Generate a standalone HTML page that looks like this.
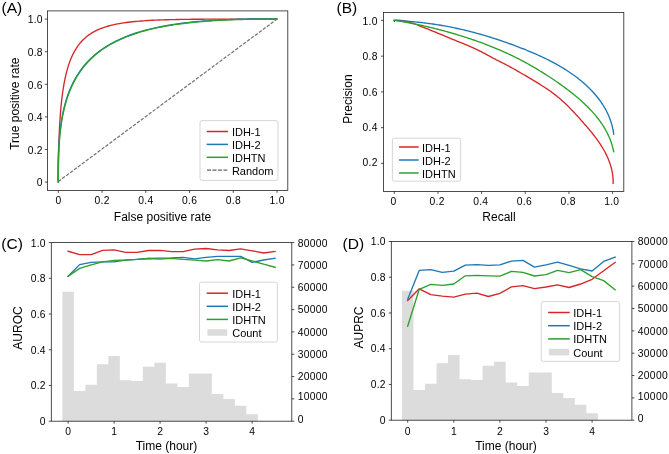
<!DOCTYPE html><html><head><meta charset="utf-8"><style>html,body{margin:0;padding:0;background:#fff;}svg{display:block;will-change:transform;filter:blur(0.35px);}text{font-family:"Liberation Sans", sans-serif;fill:#000;}</style></head><body>
<svg width="669" height="454" viewBox="0 0 669 454">
<rect width="669" height="454" fill="#fff"/>
<path d="M58.30,182.10 L58.30,180.36 L58.30,180.19 L58.30,180.00 L58.30,179.79 L58.30,179.56 L58.30,179.31 L58.31,179.04 L58.31,178.75 L58.31,178.42 L58.31,178.07 L58.31,177.68 L58.31,177.25 L58.31,176.79 L58.32,176.29 L58.32,175.74 L58.32,175.15 L58.33,174.50 L58.33,173.79 L58.34,173.03 L58.34,172.19 L58.35,171.29 L58.36,170.32 L58.37,169.26 L58.38,168.12 L58.39,166.88 L58.41,165.55 L58.43,164.11 L58.45,162.56 L58.47,160.90 L58.50,159.11 L58.54,157.19 L58.58,155.14 L58.62,152.95 L58.68,150.60 L58.74,148.10 L58.82,145.45 L58.90,142.63 L59.01,139.63 L59.12,136.47 L59.26,133.14 L59.43,129.62 L59.62,125.94 L59.84,122.07 L60.10,118.04 L60.40,113.85 L60.76,109.49 L61.17,104.99 L61.66,100.36 L62.23,95.61 L62.89,90.76 L63.67,85.82 L64.57,80.84 L65.63,75.83 L66.87,70.83 L68.32,65.86 L70.01,60.97 L71.99,56.20 L74.30,51.58 L77.01,47.15 L80.17,42.96 L82.36,40.53 L84.54,38.41 L86.73,36.55 L88.92,34.90 L91.10,33.44 L93.29,32.13 L95.48,30.96 L97.67,29.91 L99.85,28.97 L102.04,28.11 L104.23,27.34 L106.41,26.63 L108.60,26.00 L110.79,25.42 L112.97,24.89 L115.16,24.40 L117.35,23.96 L119.54,23.56 L121.72,23.19 L123.91,22.85 L126.10,22.54 L128.28,22.25 L130.47,21.99 L132.66,21.75 L134.84,21.53 L137.03,21.32 L139.22,21.14 L141.41,20.97 L143.59,20.81 L145.78,20.66 L147.97,20.53 L150.15,20.41 L152.34,20.29 L154.53,20.19 L156.72,20.09 L158.90,20.00 L161.09,19.92 L163.28,19.85 L165.46,19.78 L167.65,19.72 L169.84,19.66 L172.02,19.61 L174.21,19.56 L176.40,19.51 L178.58,19.47 L180.77,19.44 L182.96,19.40 L185.15,19.37 L187.33,19.34 L189.52,19.32 L191.71,19.29 L193.89,19.27 L196.08,19.25 L198.27,19.24 L200.45,19.22 L202.64,19.21 L204.83,19.19 L207.02,19.18 L209.20,19.17 L211.39,19.16 L213.58,19.15 L215.76,19.15 L217.95,19.14 L220.14,19.13 L222.32,19.13 L224.51,19.13 L226.70,19.12 L228.89,19.12 L231.07,19.11 L233.26,19.11 L235.45,19.11 L237.63,19.11 L239.82,19.11 L242.01,19.11 L244.19,19.10 L246.38,19.10 L248.57,19.10 L250.76,19.10 L252.94,19.10 L255.13,19.10 L257.32,19.10 L259.50,19.10 L261.69,19.10 L263.88,19.10 L266.06,19.10 L268.25,19.10 L270.44,19.10 L272.63,19.10 L274.81,19.10 L277.00,19.10" fill="none" stroke="#d62728" stroke-width="1.35" stroke-linejoin="round" stroke-linecap="square"/>
<path d="M58.30,182.10 L58.00,177.52 L58.00,177.28 L58.00,177.03 L58.00,176.76 L58.00,176.48 L58.00,176.18 L58.01,175.86 L58.01,175.52 L58.01,175.16 L58.01,174.78 L58.01,174.38 L58.01,173.95 L58.01,173.50 L58.02,173.02 L58.02,172.51 L58.02,171.97 L58.03,171.40 L58.03,170.80 L58.04,170.15 L58.04,169.47 L58.05,168.75 L58.06,167.98 L58.07,167.17 L58.08,166.31 L58.09,165.40 L58.11,164.43 L58.13,163.40 L58.15,162.32 L58.17,161.16 L58.20,159.94 L58.24,158.65 L58.28,157.28 L58.32,155.83 L58.38,154.29 L58.44,152.67 L58.52,150.95 L58.60,149.14 L58.71,147.22 L58.82,145.19 L58.96,143.05 L59.13,140.80 L59.32,138.41 L59.54,135.91 L59.80,133.27 L60.10,130.49 L60.46,127.57 L60.87,124.51 L61.36,121.29 L61.93,117.93 L62.59,114.41 L63.37,110.74 L64.27,106.91 L65.33,102.93 L66.57,98.80 L68.02,94.52 L69.71,90.10 L71.69,85.55 L74.00,80.89 L76.71,76.12 L79.87,71.27 L82.06,68.28 L84.24,65.53 L86.43,63.00 L88.62,60.65 L90.80,58.47 L92.99,56.44 L95.18,54.53 L97.37,52.74 L99.55,51.06 L101.74,49.48 L103.93,47.98 L106.11,46.57 L108.30,45.23 L110.49,43.96 L112.67,42.76 L114.86,41.62 L117.05,40.53 L119.24,39.49 L121.42,38.51 L123.61,37.57 L125.80,36.67 L127.98,35.81 L130.17,35.00 L132.36,34.22 L134.54,33.47 L136.73,32.76 L138.92,32.07 L141.11,31.42 L143.29,30.80 L145.48,30.20 L147.67,29.63 L149.85,29.08 L152.04,28.56 L154.23,28.05 L156.41,27.57 L158.60,27.11 L160.79,26.67 L162.98,26.25 L165.16,25.85 L167.35,25.46 L169.54,25.09 L171.72,24.74 L173.91,24.40 L176.10,24.08 L178.28,23.77 L180.47,23.47 L182.66,23.19 L184.85,22.92 L187.03,22.66 L189.22,22.41 L191.41,22.18 L193.59,21.95 L195.78,21.74 L197.97,21.54 L200.15,21.35 L202.34,21.16 L204.53,20.99 L206.72,20.82 L208.90,20.67 L211.09,20.52 L213.28,20.38 L215.46,20.25 L217.65,20.12 L219.84,20.00 L222.02,19.89 L224.21,19.79 L226.40,19.69 L228.59,19.60 L230.77,19.51 L232.96,19.44 L235.15,19.36 L237.33,19.29 L239.52,19.23 L241.71,19.17 L243.89,19.12 L246.08,19.07 L248.27,19.03 L250.46,18.99 L252.64,18.96 L254.83,18.93 L257.02,18.90 L259.20,18.88 L261.39,18.86 L263.58,18.84 L265.76,18.83 L267.95,18.82 L270.14,18.81 L272.33,18.80 L274.51,18.80 L276.70,18.80" fill="none" stroke="#1f77b4" stroke-width="1.35" stroke-linejoin="round" stroke-linecap="square"/>
<path d="M58.30,182.10 L58.30,177.82 L58.30,177.58 L58.30,177.33 L58.30,177.06 L58.30,176.78 L58.30,176.48 L58.31,176.16 L58.31,175.82 L58.31,175.46 L58.31,175.08 L58.31,174.68 L58.31,174.25 L58.31,173.80 L58.32,173.32 L58.32,172.81 L58.32,172.27 L58.33,171.70 L58.33,171.10 L58.34,170.45 L58.34,169.77 L58.35,169.05 L58.36,168.28 L58.37,167.47 L58.38,166.61 L58.39,165.70 L58.41,164.73 L58.43,163.70 L58.45,162.62 L58.47,161.46 L58.50,160.24 L58.54,158.95 L58.58,157.58 L58.62,156.13 L58.68,154.59 L58.74,152.97 L58.82,151.25 L58.90,149.44 L59.01,147.52 L59.12,145.49 L59.26,143.35 L59.43,141.10 L59.62,138.71 L59.84,136.21 L60.10,133.57 L60.40,130.79 L60.76,127.87 L61.17,124.81 L61.66,121.59 L62.23,118.23 L62.89,114.71 L63.67,111.04 L64.57,107.21 L65.63,103.23 L66.87,99.10 L68.32,94.82 L70.01,90.40 L71.99,85.85 L74.30,81.19 L77.01,76.42 L80.17,71.57 L82.36,68.58 L84.54,65.83 L86.73,63.30 L88.92,60.95 L91.10,58.77 L93.29,56.74 L95.48,54.83 L97.67,53.04 L99.85,51.36 L102.04,49.78 L104.23,48.28 L106.41,46.87 L108.60,45.53 L110.79,44.26 L112.97,43.06 L115.16,41.92 L117.35,40.83 L119.54,39.79 L121.72,38.81 L123.91,37.87 L126.10,36.97 L128.28,36.11 L130.47,35.30 L132.66,34.52 L134.84,33.77 L137.03,33.06 L139.22,32.37 L141.41,31.72 L143.59,31.10 L145.78,30.50 L147.97,29.93 L150.15,29.38 L152.34,28.86 L154.53,28.35 L156.72,27.87 L158.90,27.41 L161.09,26.97 L163.28,26.55 L165.46,26.15 L167.65,25.76 L169.84,25.39 L172.02,25.04 L174.21,24.70 L176.40,24.38 L178.58,24.07 L180.77,23.77 L182.96,23.49 L185.15,23.22 L187.33,22.96 L189.52,22.71 L191.71,22.48 L193.89,22.25 L196.08,22.04 L198.27,21.84 L200.45,21.65 L202.64,21.46 L204.83,21.29 L207.02,21.12 L209.20,20.97 L211.39,20.82 L213.58,20.68 L215.76,20.55 L217.95,20.42 L220.14,20.30 L222.32,20.19 L224.51,20.09 L226.70,19.99 L228.89,19.90 L231.07,19.81 L233.26,19.74 L235.45,19.66 L237.63,19.59 L239.82,19.53 L242.01,19.47 L244.19,19.42 L246.38,19.37 L248.57,19.33 L250.76,19.29 L252.94,19.26 L255.13,19.23 L257.32,19.20 L259.50,19.18 L261.69,19.16 L263.88,19.14 L266.06,19.13 L268.25,19.12 L270.44,19.11 L272.63,19.10 L274.81,19.10 L277.00,19.10" fill="none" stroke="#2ca02c" stroke-width="1.35" stroke-linejoin="round" stroke-linecap="square"/>
<line x1="58.30" y1="181.50" x2="277.00" y2="19.10" stroke="#707070" stroke-width="1.2" stroke-dasharray="3.4,1.5"/>
<rect x="47.40" y="10.90" width="240.40" height="179.50" fill="none" stroke="#222" stroke-width="0.8"/>
<line x1="44.90" y1="182.10" x2="47.40" y2="182.10" stroke="#222" stroke-width="0.8"/>
<text x="42.90" y="186.40" font-size="10.3" letter-spacing="0.3" text-anchor="end">0</text>
<line x1="44.90" y1="149.50" x2="47.40" y2="149.50" stroke="#222" stroke-width="0.8"/>
<text x="42.90" y="153.80" font-size="10.3" letter-spacing="0.3" text-anchor="end">0.2</text>
<line x1="44.90" y1="116.90" x2="47.40" y2="116.90" stroke="#222" stroke-width="0.8"/>
<text x="42.90" y="121.20" font-size="10.3" letter-spacing="0.3" text-anchor="end">0.4</text>
<line x1="44.90" y1="84.30" x2="47.40" y2="84.30" stroke="#222" stroke-width="0.8"/>
<text x="42.90" y="88.60" font-size="10.3" letter-spacing="0.3" text-anchor="end">0.6</text>
<line x1="44.90" y1="51.70" x2="47.40" y2="51.70" stroke="#222" stroke-width="0.8"/>
<text x="42.90" y="56.00" font-size="10.3" letter-spacing="0.3" text-anchor="end">0.8</text>
<line x1="44.90" y1="19.10" x2="47.40" y2="19.10" stroke="#222" stroke-width="0.8"/>
<text x="42.90" y="23.40" font-size="10.3" letter-spacing="0.3" text-anchor="end">1.0</text>
<line x1="58.30" y1="190.40" x2="58.30" y2="192.90" stroke="#222" stroke-width="0.8"/>
<text x="58.45" y="204.20" font-size="10.3" letter-spacing="0.3" text-anchor="middle">0</text>
<line x1="102.04" y1="190.40" x2="102.04" y2="192.90" stroke="#222" stroke-width="0.8"/>
<text x="102.19" y="204.20" font-size="10.3" letter-spacing="0.3" text-anchor="middle">0.2</text>
<line x1="145.78" y1="190.40" x2="145.78" y2="192.90" stroke="#222" stroke-width="0.8"/>
<text x="145.93" y="204.20" font-size="10.3" letter-spacing="0.3" text-anchor="middle">0.4</text>
<line x1="189.52" y1="190.40" x2="189.52" y2="192.90" stroke="#222" stroke-width="0.8"/>
<text x="189.67" y="204.20" font-size="10.3" letter-spacing="0.3" text-anchor="middle">0.6</text>
<line x1="233.26" y1="190.40" x2="233.26" y2="192.90" stroke="#222" stroke-width="0.8"/>
<text x="233.41" y="204.20" font-size="10.3" letter-spacing="0.3" text-anchor="middle">0.8</text>
<line x1="277.00" y1="190.40" x2="277.00" y2="192.90" stroke="#222" stroke-width="0.8"/>
<text x="277.15" y="204.20" font-size="10.3" letter-spacing="0.3" text-anchor="middle">1.0</text>
<rect x="200.00" y="120.60" width="78.00" height="59.80" rx="2" ry="2" fill="#fff" fill-opacity="0.8" stroke="#cccccc" stroke-width="0.8"/>
<line x1="207.40" y1="131.50" x2="227.20" y2="131.50" stroke="#d62728" stroke-width="1.5" stroke-linecap="square"/>
<text x="231.90" y="136.00" font-size="11" text-anchor="start" >IDH-1</text>
<line x1="207.40" y1="144.40" x2="227.20" y2="144.40" stroke="#1f77b4" stroke-width="1.5" stroke-linecap="square"/>
<text x="231.90" y="148.90" font-size="11" text-anchor="start" >IDH-2</text>
<line x1="207.40" y1="157.30" x2="227.20" y2="157.30" stroke="#2ca02c" stroke-width="1.5" stroke-linecap="square"/>
<text x="231.90" y="161.80" font-size="11" text-anchor="start" >IDHTN</text>
<line x1="207.00" y1="170.20" x2="227.30" y2="170.20" stroke="#666666" stroke-width="1.25" stroke-dasharray="4.1,1.4"/>
<text x="231.90" y="174.70" font-size="11" text-anchor="start" >Random</text>
<text x="162.50" y="221.00" font-size="12" text-anchor="middle" >False positive rate</text>
<text x="19.30" y="103.70" font-size="12" text-anchor="middle" transform="rotate(-90 19.3 103.7)">True positive rate</text>
<text x="1.50" y="12.70" font-size="15.5" text-anchor="start" >(A)</text>
<path d="M394.19,20.30 L395.67,20.21 L397.14,20.18 L398.59,20.22 L400.04,20.32 L401.47,20.47 L402.89,20.68 L404.31,20.93 L405.71,21.23 L407.11,21.57 L408.49,21.94 L409.87,22.35 L411.25,22.78 L412.61,23.23 L413.98,23.71 L415.33,24.20 L416.69,24.71 L418.04,25.22 L419.39,25.75 L420.73,26.27 L422.08,26.80 L423.42,27.33 L424.76,27.87 L426.11,28.40 L427.45,28.94 L428.78,29.47 L430.12,30.01 L431.46,30.55 L432.80,31.09 L434.13,31.64 L435.47,32.18 L436.80,32.73 L438.13,33.28 L439.47,33.83 L440.80,34.38 L442.13,34.93 L443.47,35.49 L444.80,36.04 L446.13,36.60 L447.46,37.16 L448.80,37.71 L450.13,38.27 L451.47,38.82 L452.80,39.38 L454.14,39.92 L455.48,40.47 L456.82,41.01 L458.16,41.55 L459.51,42.10 L460.85,42.64 L462.19,43.18 L463.53,43.72 L464.87,44.27 L466.21,44.82 L467.54,45.38 L468.87,45.94 L470.20,46.52 L471.52,47.10 L472.84,47.69 L474.15,48.29 L475.46,48.90 L476.76,49.52 L478.05,50.16 L479.34,50.80 L480.63,51.46 L481.91,52.12 L483.19,52.79 L484.47,53.47 L485.74,54.15 L487.01,54.83 L488.29,55.51 L489.56,56.19 L490.84,56.88 L492.11,57.56 L493.39,58.23 L494.67,58.91 L495.96,59.57 L497.25,60.24 L498.54,60.89 L499.83,61.55 L501.12,62.20 L502.41,62.86 L503.70,63.52 L504.98,64.18 L506.26,64.85 L507.54,65.52 L508.81,66.20 L510.08,66.89 L511.35,67.58 L512.61,68.27 L513.87,68.97 L515.12,69.68 L516.38,70.39 L517.63,71.10 L518.88,71.82 L520.13,72.54 L521.37,73.26 L522.62,73.99 L523.86,74.72 L525.11,75.45 L526.35,76.19 L527.59,76.93 L528.84,77.67 L530.08,78.41 L531.32,79.15 L532.57,79.90 L533.82,80.65 L535.06,81.40 L536.31,82.15 L537.55,82.90 L538.79,83.66 L540.03,84.43 L541.26,85.20 L542.49,85.98 L543.72,86.76 L544.94,87.55 L546.15,88.35 L547.36,89.16 L548.56,89.97 L549.75,90.80 L550.93,91.64 L552.10,92.48 L553.26,93.34 L554.41,94.22 L555.55,95.10 L556.67,96.00 L557.79,96.91 L558.89,97.83 L559.99,98.77 L561.07,99.71 L562.15,100.67 L563.21,101.63 L564.27,102.61 L565.32,103.59 L566.36,104.59 L567.39,105.59 L568.42,106.60 L569.44,107.62 L570.45,108.65 L571.45,109.68 L572.45,110.72 L573.45,111.77 L574.43,112.82 L575.42,113.88 L576.40,114.95 L577.37,116.02 L578.35,117.09 L579.31,118.17 L580.28,119.25 L581.24,120.34 L582.20,121.43 L583.16,122.52 L584.12,123.61 L585.07,124.71 L586.02,125.81 L586.97,126.91 L587.92,128.02 L588.85,129.13 L589.78,130.24 L590.71,131.36 L591.63,132.49 L592.54,133.62 L593.44,134.76 L594.33,135.90 L595.21,137.05 L596.07,138.21 L596.93,139.38 L597.77,140.55 L598.60,141.73 L599.42,142.92 L600.22,144.12 L601.01,145.32 L601.77,146.54 L602.53,147.77 L603.26,149.01 L603.97,150.26 L604.67,151.52 L605.34,152.79 L606.00,154.07 L606.63,155.37 L607.24,156.67 L607.83,157.99 L608.39,159.32 L608.92,160.66 L609.43,162.01 L609.91,163.38 L610.37,164.75 L610.79,166.13 L611.18,167.52 L611.54,168.92 L611.86,170.33 L612.16,171.74 L612.42,173.17 L612.64,174.60 L612.82,176.03 L612.97,177.48 L613.08,178.93 L613.14,180.39 L613.17,181.85 L613.16,183.32" fill="none" stroke="#d62728" stroke-width="1.35" stroke-linejoin="round" stroke-linecap="square"/>
<path d="M394.40,22.00 L394.23,20.57 L395.59,20.62 L396.94,20.67 L398.30,20.73 L399.65,20.79 L401.00,20.86 L402.34,20.93 L403.69,21.01 L405.03,21.10 L406.37,21.18 L407.71,21.28 L409.05,21.38 L410.38,21.48 L411.72,21.59 L413.05,21.71 L414.38,21.83 L415.71,21.95 L417.03,22.08 L418.36,22.22 L419.68,22.36 L421.00,22.50 L422.32,22.65 L423.64,22.80 L424.95,22.96 L426.27,23.13 L427.58,23.30 L428.89,23.47 L430.20,23.65 L431.51,23.83 L432.82,24.02 L434.12,24.22 L435.43,24.42 L436.73,24.62 L438.03,24.83 L439.33,25.04 L440.63,25.26 L441.92,25.48 L443.22,25.70 L444.51,25.94 L445.81,26.17 L447.10,26.41 L448.39,26.66 L449.68,26.91 L450.96,27.16 L452.25,27.42 L453.54,27.68 L454.82,27.95 L456.10,28.23 L457.39,28.50 L458.67,28.78 L459.95,29.07 L461.22,29.36 L462.50,29.66 L463.78,29.96 L465.05,30.26 L466.33,30.57 L467.60,30.88 L468.87,31.20 L470.15,31.52 L471.42,31.85 L472.69,32.18 L473.96,32.51 L475.22,32.85 L476.49,33.19 L477.76,33.54 L479.02,33.89 L480.29,34.25 L481.55,34.61 L482.82,34.97 L484.08,35.34 L485.34,35.71 L486.60,36.09 L487.86,36.47 L489.12,36.86 L490.38,37.24 L491.64,37.64 L492.90,38.03 L494.16,38.44 L495.41,38.84 L496.67,39.25 L497.93,39.66 L499.18,40.08 L500.44,40.50 L501.69,40.93 L502.95,41.36 L504.20,41.79 L505.46,42.23 L506.71,42.67 L507.96,43.11 L509.22,43.56 L510.47,44.01 L511.72,44.47 L512.97,44.93 L514.22,45.39 L515.48,45.86 L516.73,46.33 L517.98,46.81 L519.23,47.29 L520.48,47.77 L521.73,48.26 L522.98,48.75 L524.23,49.24 L525.48,49.74 L526.72,50.25 L527.97,50.76 L529.21,51.27 L530.46,51.79 L531.70,52.31 L532.93,52.84 L534.17,53.37 L535.41,53.91 L536.64,54.45 L537.87,55.00 L539.09,55.55 L540.32,56.11 L541.54,56.67 L542.76,57.24 L543.97,57.82 L545.18,58.40 L546.39,58.99 L547.59,59.59 L548.79,60.19 L549.98,60.79 L551.17,61.41 L552.36,62.03 L553.54,62.66 L554.72,63.29 L555.89,63.93 L557.05,64.58 L558.22,65.23 L559.37,65.89 L560.52,66.56 L561.67,67.24 L562.80,67.93 L563.94,68.62 L565.06,69.32 L566.18,70.03 L567.29,70.74 L568.40,71.47 L569.50,72.20 L570.59,72.94 L571.68,73.69 L572.75,74.44 L573.82,75.21 L574.88,75.98 L575.94,76.77 L576.98,77.56 L578.02,78.36 L579.05,79.17 L580.07,79.99 L581.09,80.82 L582.09,81.66 L583.08,82.51 L584.07,83.37 L585.05,84.23 L586.01,85.11 L586.97,86.00 L587.92,86.90 L588.85,87.80 L589.78,88.72 L590.70,89.65 L591.60,90.59 L592.50,91.54 L593.38,92.50 L594.25,93.47 L595.11,94.45 L595.95,95.44 L596.79,96.45 L597.60,97.46 L598.41,98.49 L599.20,99.53 L599.97,100.57 L600.73,101.63 L601.47,102.71 L602.20,103.79 L602.91,104.88 L603.60,105.99 L604.27,107.11 L604.93,108.24 L605.57,109.38 L606.18,110.53 L606.78,111.70 L607.36,112.88 L607.92,114.07 L608.46,115.27 L608.98,116.49 L609.48,117.72 L609.95,118.96 L610.41,120.21 L610.84,121.48 L611.24,122.76 L611.63,124.05 L611.99,125.36 L612.32,126.68 L612.63,128.01 L612.92,129.36 L613.18,130.72 L613.41,132.09 L613.62,133.48 L613.80,134.88" fill="none" stroke="#1f77b4" stroke-width="1.35" stroke-linejoin="round" stroke-linecap="butt"/>
<path d="M394.26,20.20 L395.58,20.41 L396.90,20.62 L398.22,20.84 L399.53,21.06 L400.85,21.29 L402.17,21.52 L403.49,21.75 L404.81,21.99 L406.13,22.24 L407.44,22.48 L408.76,22.74 L410.08,22.99 L411.40,23.25 L412.71,23.52 L414.03,23.79 L415.34,24.06 L416.66,24.33 L417.97,24.61 L419.29,24.90 L420.60,25.18 L421.92,25.47 L423.23,25.77 L424.54,26.07 L425.86,26.37 L427.17,26.67 L428.48,26.98 L429.79,27.29 L431.10,27.61 L432.41,27.93 L433.71,28.25 L435.02,28.58 L436.33,28.90 L437.63,29.24 L438.94,29.57 L440.24,29.91 L441.55,30.26 L442.85,30.60 L444.15,30.95 L445.45,31.31 L446.75,31.66 L448.04,32.02 L449.34,32.39 L450.64,32.75 L451.93,33.12 L453.22,33.50 L454.52,33.88 L455.81,34.26 L457.10,34.64 L458.38,35.03 L459.67,35.42 L460.96,35.82 L462.24,36.22 L463.52,36.62 L464.81,37.03 L466.09,37.44 L467.36,37.86 L468.64,38.27 L469.92,38.70 L471.19,39.13 L472.46,39.56 L473.73,39.99 L475.00,40.43 L476.27,40.88 L477.54,41.32 L478.80,41.78 L480.06,42.23 L481.33,42.69 L482.58,43.16 L483.84,43.63 L485.10,44.10 L486.35,44.58 L487.60,45.06 L488.85,45.55 L490.10,46.04 L491.35,46.54 L492.59,47.04 L493.83,47.55 L495.07,48.06 L496.31,48.57 L497.55,49.09 L498.78,49.62 L500.01,50.15 L501.24,50.68 L502.47,51.22 L503.70,51.77 L504.92,52.32 L506.14,52.87 L507.36,53.43 L508.57,54.00 L509.79,54.57 L511.00,55.14 L512.21,55.72 L513.42,56.31 L514.62,56.90 L515.82,57.49 L517.02,58.10 L518.22,58.70 L519.41,59.31 L520.60,59.93 L521.79,60.55 L522.98,61.18 L524.17,61.81 L525.35,62.45 L526.53,63.10 L527.70,63.75 L528.88,64.40 L530.05,65.06 L531.22,65.72 L532.39,66.39 L533.55,67.07 L534.71,67.74 L535.87,68.43 L537.03,69.12 L538.19,69.81 L539.34,70.51 L540.49,71.21 L541.64,71.92 L542.78,72.63 L543.92,73.35 L545.07,74.07 L546.20,74.80 L547.34,75.53 L548.47,76.27 L549.60,77.01 L550.73,77.75 L551.86,78.50 L552.98,79.25 L554.10,80.01 L555.22,80.77 L556.34,81.54 L557.46,82.31 L558.57,83.09 L559.68,83.87 L560.79,84.65 L561.89,85.44 L562.99,86.23 L564.09,87.03 L565.18,87.84 L566.27,88.64 L567.36,89.46 L568.44,90.28 L569.51,91.10 L570.59,91.93 L571.65,92.77 L572.71,93.61 L573.77,94.46 L574.82,95.31 L575.86,96.17 L576.90,97.04 L577.93,97.91 L578.95,98.79 L579.97,99.68 L580.98,100.57 L581.98,101.47 L582.97,102.38 L583.96,103.30 L584.93,104.22 L585.90,105.15 L586.86,106.09 L587.81,107.03 L588.75,107.99 L589.68,108.95 L590.60,109.92 L591.52,110.90 L592.42,111.88 L593.31,112.88 L594.18,113.88 L595.05,114.90 L595.90,115.92 L596.74,116.95 L597.57,117.99 L598.39,119.04 L599.19,120.10 L599.97,121.18 L600.74,122.26 L601.50,123.35 L602.24,124.45 L602.96,125.56 L603.67,126.68 L604.36,127.82 L605.03,128.96 L605.68,130.12 L606.32,131.28 L606.94,132.46 L607.53,133.65 L608.11,134.85 L608.67,136.07 L609.21,137.29 L609.73,138.53 L610.22,139.78 L610.70,141.05 L611.15,142.32 L611.58,143.61 L611.99,144.91 L612.37,146.23 L612.73,147.56 L613.07,148.90 L613.38,150.25 L613.67,151.62" fill="none" stroke="#2ca02c" stroke-width="1.35" stroke-linejoin="round" stroke-linecap="square"/>
<rect x="383.50" y="12.40" width="240.30" height="179.00" fill="none" stroke="#222" stroke-width="0.8"/>
<line x1="381.00" y1="163.40" x2="383.50" y2="163.40" stroke="#222" stroke-width="0.8"/>
<text x="377.70" y="165.90" font-size="10.3" letter-spacing="0.3" text-anchor="end">0.2</text>
<line x1="381.00" y1="127.65" x2="383.50" y2="127.65" stroke="#222" stroke-width="0.8"/>
<text x="377.70" y="130.70" font-size="10.3" letter-spacing="0.3" text-anchor="end">0.4</text>
<line x1="381.00" y1="91.90" x2="383.50" y2="91.90" stroke="#222" stroke-width="0.8"/>
<text x="377.70" y="95.50" font-size="10.3" letter-spacing="0.3" text-anchor="end">0.6</text>
<line x1="381.00" y1="56.15" x2="383.50" y2="56.15" stroke="#222" stroke-width="0.8"/>
<text x="377.70" y="60.30" font-size="10.3" letter-spacing="0.3" text-anchor="end">0.8</text>
<line x1="381.00" y1="20.40" x2="383.50" y2="20.40" stroke="#222" stroke-width="0.8"/>
<text x="377.70" y="25.10" font-size="10.3" letter-spacing="0.3" text-anchor="end">1.0</text>
<line x1="394.30" y1="191.40" x2="394.30" y2="193.90" stroke="#222" stroke-width="0.8"/>
<text x="393.45" y="205.20" font-size="10.3" letter-spacing="0.3" text-anchor="middle">0</text>
<line x1="437.96" y1="191.40" x2="437.96" y2="193.90" stroke="#222" stroke-width="0.8"/>
<text x="437.11" y="205.20" font-size="10.3" letter-spacing="0.3" text-anchor="middle">0.2</text>
<line x1="481.62" y1="191.40" x2="481.62" y2="193.90" stroke="#222" stroke-width="0.8"/>
<text x="480.77" y="205.20" font-size="10.3" letter-spacing="0.3" text-anchor="middle">0.4</text>
<line x1="525.28" y1="191.40" x2="525.28" y2="193.90" stroke="#222" stroke-width="0.8"/>
<text x="524.43" y="205.20" font-size="10.3" letter-spacing="0.3" text-anchor="middle">0.6</text>
<line x1="568.94" y1="191.40" x2="568.94" y2="193.90" stroke="#222" stroke-width="0.8"/>
<text x="568.09" y="205.20" font-size="10.3" letter-spacing="0.3" text-anchor="middle">0.8</text>
<line x1="612.60" y1="191.40" x2="612.60" y2="193.90" stroke="#222" stroke-width="0.8"/>
<text x="611.75" y="205.20" font-size="10.3" letter-spacing="0.3" text-anchor="middle">1.0</text>
<rect x="392.40" y="138.20" width="68.20" height="43.00" rx="2" ry="2" fill="#fff" fill-opacity="0.8" stroke="#cccccc" stroke-width="0.8"/>
<line x1="399.80" y1="147.00" x2="417.90" y2="147.00" stroke="#d62728" stroke-width="1.5" stroke-linecap="square"/>
<text x="422.00" y="151.50" font-size="11" text-anchor="start" >IDH-1</text>
<line x1="399.80" y1="160.00" x2="417.90" y2="160.00" stroke="#1f77b4" stroke-width="1.5" stroke-linecap="square"/>
<text x="422.00" y="164.50" font-size="11" text-anchor="start" >IDH-2</text>
<line x1="399.80" y1="173.00" x2="417.90" y2="173.00" stroke="#2ca02c" stroke-width="1.5" stroke-linecap="square"/>
<text x="422.00" y="177.50" font-size="11" text-anchor="start" >IDHTN</text>
<text x="499.00" y="221.00" font-size="12" text-anchor="middle" >Recall</text>
<text x="352.30" y="99.10" font-size="12" text-anchor="middle" transform="rotate(-90 352.3 99.1)">Precision</text>
<text x="336.50" y="13.20" font-size="15.5" text-anchor="start" >(B)</text>
<path d="M62.35,421.20 L62.35,291.80 L73.85,291.80 L73.85,391.11 L85.35,391.11 L85.35,384.70 L96.85,384.70 L96.85,364.29 L108.35,364.29 L108.35,356.01 L119.85,356.01 L119.85,380.21 L131.35,380.21 L131.35,380.90 L142.85,380.90 L142.85,366.79 L154.35,366.79 L154.35,362.71 L165.85,362.71 L165.85,383.58 L177.35,383.58 L177.35,387.00 L188.85,387.00 L188.85,373.40 L200.35,373.40 L200.35,373.40 L211.85,373.40 L211.85,393.90 L223.35,393.90 L223.35,399.10 L234.85,399.10 L234.85,405.80 L246.35,405.80 L246.35,414.20 L257.85,414.20 L257.85,421.20 Z" fill="#dcdcdc"/>
<path d="M68.10,251.20 L79.60,254.60 L91.10,254.60 L102.60,250.30 L114.10,249.80 L125.60,252.30 L137.10,252.30 L148.60,250.50 L160.10,250.30 L171.60,251.60 L183.10,251.60 L194.60,249.20 L206.10,248.50 L217.60,249.80 L229.10,250.50 L240.60,248.90 L252.10,250.80 L263.60,253.00 L275.10,251.40" fill="none" stroke="#d62728" stroke-width="1.35" stroke-linejoin="round" stroke-linecap="square"/>
<path d="M68.10,276.30 L79.60,264.60 L91.10,262.40 L102.60,261.90 L114.10,261.90 L125.60,260.10 L137.10,259.40 L148.60,258.50 L160.10,258.20 L171.60,257.90 L183.10,257.30 L194.60,258.80 L206.10,257.30 L217.60,256.40 L229.10,256.40 L240.60,256.40 L252.10,262.40 L263.60,260.00 L275.10,258.30" fill="none" stroke="#1f77b4" stroke-width="1.35" stroke-linejoin="round" stroke-linecap="square"/>
<path d="M68.10,276.30 L79.60,268.40 L91.10,264.80 L102.60,261.80 L114.10,260.30 L125.60,260.00 L137.10,259.40 L148.60,258.50 L160.10,259.10 L171.60,258.30 L183.10,259.40 L194.60,260.10 L206.10,261.00 L217.60,259.70 L229.10,261.00 L240.60,257.90 L252.10,260.90 L263.60,264.20 L275.10,267.30" fill="none" stroke="#2ca02c" stroke-width="1.35" stroke-linejoin="round" stroke-linecap="square"/>
<rect x="51.30" y="242.60" width="240.50" height="178.60" fill="none" stroke="#222" stroke-width="0.8"/>
<line x1="48.80" y1="421.20" x2="51.30" y2="421.20" stroke="#222" stroke-width="0.8"/>
<text x="45.90" y="425.10" font-size="10.3" letter-spacing="0.3" text-anchor="end">0</text>
<line x1="48.80" y1="385.48" x2="51.30" y2="385.48" stroke="#222" stroke-width="0.8"/>
<text x="45.90" y="389.38" font-size="10.3" letter-spacing="0.3" text-anchor="end">0.2</text>
<line x1="48.80" y1="349.76" x2="51.30" y2="349.76" stroke="#222" stroke-width="0.8"/>
<text x="45.90" y="353.66" font-size="10.3" letter-spacing="0.3" text-anchor="end">0.4</text>
<line x1="48.80" y1="314.04" x2="51.30" y2="314.04" stroke="#222" stroke-width="0.8"/>
<text x="45.90" y="317.94" font-size="10.3" letter-spacing="0.3" text-anchor="end">0.6</text>
<line x1="48.80" y1="278.32" x2="51.30" y2="278.32" stroke="#222" stroke-width="0.8"/>
<text x="45.90" y="282.22" font-size="10.3" letter-spacing="0.3" text-anchor="end">0.8</text>
<line x1="48.80" y1="242.60" x2="51.30" y2="242.60" stroke="#222" stroke-width="0.8"/>
<text x="45.90" y="246.50" font-size="10.3" letter-spacing="0.3" text-anchor="end">1.0</text>
<line x1="291.80" y1="421.20" x2="294.30" y2="421.20" stroke="#222" stroke-width="0.8"/>
<text x="297.70" y="423.20" font-size="10.3" letter-spacing="0.3" text-anchor="start">0</text>
<line x1="291.80" y1="398.88" x2="294.30" y2="398.88" stroke="#222" stroke-width="0.8"/>
<text x="297.70" y="400.38" font-size="10.3" letter-spacing="0.3" text-anchor="start">10000</text>
<line x1="291.80" y1="376.55" x2="294.30" y2="376.55" stroke="#222" stroke-width="0.8"/>
<text x="297.70" y="380.05" font-size="10.3" letter-spacing="0.3" text-anchor="start">20000</text>
<line x1="291.80" y1="354.23" x2="294.30" y2="354.23" stroke="#222" stroke-width="0.8"/>
<text x="297.70" y="358.12" font-size="10.3" letter-spacing="0.3" text-anchor="start">30000</text>
<line x1="291.80" y1="331.90" x2="294.30" y2="331.90" stroke="#222" stroke-width="0.8"/>
<text x="297.70" y="335.80" font-size="10.3" letter-spacing="0.3" text-anchor="start">40000</text>
<line x1="291.80" y1="309.57" x2="294.30" y2="309.57" stroke="#222" stroke-width="0.8"/>
<text x="297.70" y="313.47" font-size="10.3" letter-spacing="0.3" text-anchor="start">50000</text>
<line x1="291.80" y1="287.25" x2="294.30" y2="287.25" stroke="#222" stroke-width="0.8"/>
<text x="297.70" y="291.15" font-size="10.3" letter-spacing="0.3" text-anchor="start">60000</text>
<line x1="291.80" y1="264.92" x2="294.30" y2="264.92" stroke="#222" stroke-width="0.8"/>
<text x="297.70" y="268.82" font-size="10.3" letter-spacing="0.3" text-anchor="start">70000</text>
<line x1="291.80" y1="242.60" x2="294.30" y2="242.60" stroke="#222" stroke-width="0.8"/>
<text x="297.70" y="246.50" font-size="10.3" letter-spacing="0.3" text-anchor="start">80000</text>
<line x1="68.10" y1="421.20" x2="68.10" y2="423.70" stroke="#222" stroke-width="0.8"/>
<text x="68.25" y="435.40" font-size="10.3" letter-spacing="0.3" text-anchor="middle">0</text>
<line x1="114.10" y1="421.20" x2="114.10" y2="423.70" stroke="#222" stroke-width="0.8"/>
<text x="114.25" y="435.40" font-size="10.3" letter-spacing="0.3" text-anchor="middle">1</text>
<line x1="160.10" y1="421.20" x2="160.10" y2="423.70" stroke="#222" stroke-width="0.8"/>
<text x="160.25" y="435.40" font-size="10.3" letter-spacing="0.3" text-anchor="middle">2</text>
<line x1="206.10" y1="421.20" x2="206.10" y2="423.70" stroke="#222" stroke-width="0.8"/>
<text x="206.25" y="435.40" font-size="10.3" letter-spacing="0.3" text-anchor="middle">3</text>
<line x1="252.10" y1="421.20" x2="252.10" y2="423.70" stroke="#222" stroke-width="0.8"/>
<text x="252.25" y="435.40" font-size="10.3" letter-spacing="0.3" text-anchor="middle">4</text>
<rect x="199.50" y="282.20" width="77.90" height="59.80" rx="2" ry="2" fill="#fff" fill-opacity="0.8" stroke="#cccccc" stroke-width="0.8"/>
<line x1="207.40" y1="293.20" x2="227.20" y2="293.20" stroke="#d62728" stroke-width="1.5" stroke-linecap="square"/>
<text x="232.20" y="297.70" font-size="11" text-anchor="start" >IDH-1</text>
<line x1="207.40" y1="306.30" x2="227.20" y2="306.30" stroke="#1f77b4" stroke-width="1.5" stroke-linecap="square"/>
<text x="232.20" y="310.80" font-size="11" text-anchor="start" >IDH-2</text>
<line x1="207.40" y1="319.40" x2="227.20" y2="319.40" stroke="#2ca02c" stroke-width="1.5" stroke-linecap="square"/>
<text x="232.20" y="323.90" font-size="11" text-anchor="start" >IDHTN</text>
<rect x="207.40" y="329.20" width="19.80" height="6.6" fill="#dcdcdc"/>
<text x="232.20" y="337.00" font-size="11" text-anchor="start" >Count</text>
<text x="166.50" y="450.40" font-size="12" text-anchor="middle" >Time (hour)</text>
<text x="21.80" y="328.00" font-size="12" text-anchor="middle" transform="rotate(-90 21.8 328)">AUROC</text>
<text x="1.30" y="248.50" font-size="15.5" text-anchor="start" >(C)</text>
<path d="M401.94,420.20 L401.94,290.73 L413.46,290.73 L413.46,390.09 L424.99,390.09 L424.99,383.68 L436.51,383.68 L436.51,363.26 L448.04,363.26 L448.04,354.97 L459.56,354.97 L459.56,379.19 L471.09,379.19 L471.09,379.88 L482.61,379.88 L482.61,365.76 L494.14,365.76 L494.14,361.68 L505.66,361.68 L505.66,382.56 L517.19,382.56 L517.19,385.98 L528.71,385.98 L528.71,372.38 L540.24,372.38 L540.24,372.38 L551.76,372.38 L551.76,392.88 L563.29,392.88 L563.29,398.09 L574.81,398.09 L574.81,404.79 L586.34,404.79 L586.34,413.20 L597.86,413.20 L597.86,420.20 Z" fill="#dcdcdc"/>
<path d="M407.70,300.50 L419.22,288.80 L430.75,294.70 L442.27,296.20 L453.80,297.20 L465.32,294.20 L476.85,293.20 L488.38,296.50 L499.90,293.40 L511.43,286.90 L522.95,285.70 L534.48,288.70 L546.00,287.00 L557.52,284.80 L569.05,287.50 L580.58,284.00 L592.10,279.30 L603.62,270.80 L615.15,262.40" fill="none" stroke="#d62728" stroke-width="1.35" stroke-linejoin="round" stroke-linecap="square"/>
<path d="M407.70,299.20 L419.22,270.40 L430.75,269.70 L442.27,272.40 L453.80,271.20 L465.32,265.10 L476.85,264.70 L488.38,265.40 L499.90,264.90 L511.43,261.10 L522.95,260.40 L534.48,267.10 L546.00,264.80 L557.52,262.10 L569.05,265.40 L580.58,268.80 L592.10,271.00 L603.62,261.40 L615.15,257.10" fill="none" stroke="#1f77b4" stroke-width="1.35" stroke-linejoin="round" stroke-linecap="square"/>
<path d="M407.70,326.20 L419.22,289.30 L430.75,284.30 L442.27,285.30 L453.80,284.00 L465.32,275.80 L476.85,275.30 L488.38,275.80 L499.90,276.10 L511.43,271.30 L522.95,272.30 L534.48,276.00 L546.00,274.70 L557.52,270.30 L569.05,272.60 L580.58,269.70 L592.10,276.70 L603.62,280.60 L615.15,289.90" fill="none" stroke="#2ca02c" stroke-width="1.35" stroke-linejoin="round" stroke-linecap="square"/>
<rect x="391.30" y="241.50" width="240.60" height="178.70" fill="none" stroke="#222" stroke-width="0.8"/>
<line x1="388.80" y1="420.20" x2="391.30" y2="420.20" stroke="#222" stroke-width="0.8"/>
<text x="385.90" y="423.90" font-size="10.3" letter-spacing="0.3" text-anchor="end">0</text>
<line x1="388.80" y1="384.46" x2="391.30" y2="384.46" stroke="#222" stroke-width="0.8"/>
<text x="385.90" y="388.16" font-size="10.3" letter-spacing="0.3" text-anchor="end">0.2</text>
<line x1="388.80" y1="348.72" x2="391.30" y2="348.72" stroke="#222" stroke-width="0.8"/>
<text x="385.90" y="352.42" font-size="10.3" letter-spacing="0.3" text-anchor="end">0.4</text>
<line x1="388.80" y1="312.98" x2="391.30" y2="312.98" stroke="#222" stroke-width="0.8"/>
<text x="385.90" y="316.68" font-size="10.3" letter-spacing="0.3" text-anchor="end">0.6</text>
<line x1="388.80" y1="277.24" x2="391.30" y2="277.24" stroke="#222" stroke-width="0.8"/>
<text x="385.90" y="280.94" font-size="10.3" letter-spacing="0.3" text-anchor="end">0.8</text>
<line x1="388.80" y1="241.50" x2="391.30" y2="241.50" stroke="#222" stroke-width="0.8"/>
<text x="385.90" y="245.20" font-size="10.3" letter-spacing="0.3" text-anchor="end">1.0</text>
<line x1="631.90" y1="420.20" x2="634.40" y2="420.20" stroke="#222" stroke-width="0.8"/>
<text x="637.80" y="422.10" font-size="10.3" letter-spacing="0.3" text-anchor="start">0</text>
<line x1="631.90" y1="397.86" x2="634.40" y2="397.86" stroke="#222" stroke-width="0.8"/>
<text x="637.80" y="400.26" font-size="10.3" letter-spacing="0.3" text-anchor="start">10000</text>
<line x1="631.90" y1="375.52" x2="634.40" y2="375.52" stroke="#222" stroke-width="0.8"/>
<text x="637.80" y="379.22" font-size="10.3" letter-spacing="0.3" text-anchor="start">20000</text>
<line x1="631.90" y1="353.19" x2="634.40" y2="353.19" stroke="#222" stroke-width="0.8"/>
<text x="637.80" y="356.89" font-size="10.3" letter-spacing="0.3" text-anchor="start">30000</text>
<line x1="631.90" y1="330.85" x2="634.40" y2="330.85" stroke="#222" stroke-width="0.8"/>
<text x="637.80" y="334.55" font-size="10.3" letter-spacing="0.3" text-anchor="start">40000</text>
<line x1="631.90" y1="308.51" x2="634.40" y2="308.51" stroke="#222" stroke-width="0.8"/>
<text x="637.80" y="312.21" font-size="10.3" letter-spacing="0.3" text-anchor="start">50000</text>
<line x1="631.90" y1="286.18" x2="634.40" y2="286.18" stroke="#222" stroke-width="0.8"/>
<text x="637.80" y="289.88" font-size="10.3" letter-spacing="0.3" text-anchor="start">60000</text>
<line x1="631.90" y1="263.84" x2="634.40" y2="263.84" stroke="#222" stroke-width="0.8"/>
<text x="637.80" y="267.54" font-size="10.3" letter-spacing="0.3" text-anchor="start">70000</text>
<line x1="631.90" y1="241.50" x2="634.40" y2="241.50" stroke="#222" stroke-width="0.8"/>
<text x="637.80" y="245.20" font-size="10.3" letter-spacing="0.3" text-anchor="start">80000</text>
<line x1="407.70" y1="420.20" x2="407.70" y2="422.70" stroke="#222" stroke-width="0.8"/>
<text x="407.85" y="435.40" font-size="10.3" letter-spacing="0.3" text-anchor="middle">0</text>
<line x1="453.80" y1="420.20" x2="453.80" y2="422.70" stroke="#222" stroke-width="0.8"/>
<text x="453.95" y="435.40" font-size="10.3" letter-spacing="0.3" text-anchor="middle">1</text>
<line x1="499.90" y1="420.20" x2="499.90" y2="422.70" stroke="#222" stroke-width="0.8"/>
<text x="500.05" y="435.40" font-size="10.3" letter-spacing="0.3" text-anchor="middle">2</text>
<line x1="546.00" y1="420.20" x2="546.00" y2="422.70" stroke="#222" stroke-width="0.8"/>
<text x="546.15" y="435.40" font-size="10.3" letter-spacing="0.3" text-anchor="middle">3</text>
<line x1="592.10" y1="420.20" x2="592.10" y2="422.70" stroke="#222" stroke-width="0.8"/>
<text x="592.25" y="435.40" font-size="10.3" letter-spacing="0.3" text-anchor="middle">4</text>
<rect x="541.20" y="301.60" width="78.40" height="59.80" rx="2" ry="2" fill="#fff" fill-opacity="0.8" stroke="#cccccc" stroke-width="0.8"/>
<line x1="548.90" y1="312.50" x2="569.00" y2="312.50" stroke="#d62728" stroke-width="1.5" stroke-linecap="square"/>
<text x="573.30" y="317.00" font-size="11" text-anchor="start" >IDH-1</text>
<line x1="548.90" y1="325.70" x2="569.00" y2="325.70" stroke="#1f77b4" stroke-width="1.5" stroke-linecap="square"/>
<text x="573.30" y="330.20" font-size="11" text-anchor="start" >IDH-2</text>
<line x1="548.90" y1="338.90" x2="569.00" y2="338.90" stroke="#2ca02c" stroke-width="1.5" stroke-linecap="square"/>
<text x="573.30" y="343.40" font-size="11" text-anchor="start" >IDHTN</text>
<rect x="548.90" y="348.80" width="20.10" height="6.6" fill="#dcdcdc"/>
<text x="573.30" y="356.60" font-size="11" text-anchor="start" >Count</text>
<text x="506.00" y="450.40" font-size="12" text-anchor="middle" >Time (hour)</text>
<text x="362.60" y="327.50" font-size="12" text-anchor="middle" transform="rotate(-90 362.6 327.5)">AUPRC</text>
<text x="342.60" y="248.80" font-size="15.5" text-anchor="start" >(D)</text>
</svg></body></html>
